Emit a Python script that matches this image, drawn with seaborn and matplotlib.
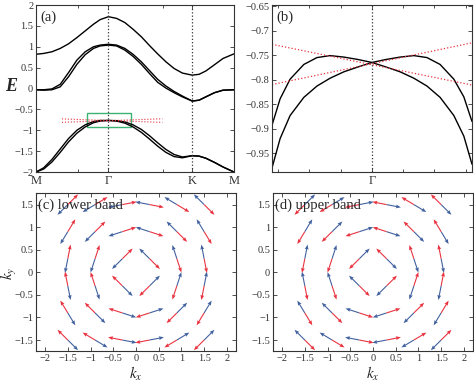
import numpy as np
import pandas as pd
import matplotlib
matplotlib.use("Agg")
import matplotlib.pyplot as plt
import seaborn as sns

# ---------data-----------------------------------------------------------------
# (a) band structure along M - Gamma - K - M
k_ticks = [0.0, 0.577, 1.244, 1.577]
k_labels = ["M", "Γ", "K", "M"]
k_path = [0.0, 0.061, 0.127, 0.193, 0.259, 0.326, 0.392, 0.458, 0.511, 0.577,
          0.642, 0.708, 0.773, 0.839, 0.904, 0.969, 1.035, 1.100, 1.166, 1.244,
          1.299, 1.353, 1.422, 1.490, 1.577]
band_top = [0.82, 0.84, 0.88, 0.96, 1.07, 1.22, 1.38, 1.54, 1.65, 1.72,
            1.68, 1.58, 1.42, 1.24, 1.03, 0.83, 0.64, 0.48, 0.37, 0.32,
            0.34, 0.42, 0.57, 0.72, 0.83]
band_mid_hi = [-0.03, -0.03, -0.01, 0.10, 0.38, 0.68, 0.88, 1.00, 1.04, 1.06,
               1.04, 0.96, 0.82, 0.64, 0.43, 0.22, 0.06, -0.07, -0.18, -0.30,
               -0.28, -0.20, -0.10, -0.04, -0.03]
band_mid_lo = [-0.03, -0.04, -0.03, 0.04, 0.28, 0.58, 0.81, 0.96, 1.02, 1.04,
               1.02, 0.92, 0.77, 0.58, 0.36, 0.15, 0.01, -0.10, -0.20, -0.30,
               -0.28, -0.20, -0.10, -0.04, -0.03]
band_low_hi = [-2.00, -1.90, -1.70, -1.45, -1.20, -1.00, -0.87, -0.79, -0.765, -0.765,
               -0.77, -0.80, -0.87, -0.98, -1.13, -1.30, -1.46, -1.58, -1.64, -1.61,
               -1.62, -1.67, -1.77, -1.88, -2.00]
band_low_lo = [-2.00, -1.93, -1.76, -1.53, -1.28, -1.07, -0.92, -0.82, -0.78, -0.765,
               -0.78, -0.83, -0.92, -1.05, -1.21, -1.38, -1.53, -1.63, -1.66, -1.61,
               -1.62, -1.67, -1.77, -1.88, -2.00]

# (b) zoom around Gamma
q_path = [-0.16, -0.147, -0.131, -0.109, -0.088, -0.067, -0.045, -0.022, 0.0,
          0.022, 0.045, 0.067, 0.088, 0.109, 0.131, 0.147, 0.16]
zoom_hi = [-0.893, -0.839, -0.799, -0.769, -0.755, -0.751, -0.754, -0.759, -0.765,
           -0.759, -0.754, -0.751, -0.755, -0.769, -0.799, -0.835, -0.885]
zoom_lo = [-0.980, -0.920, -0.873, -0.836, -0.813, -0.797, -0.784, -0.774, -0.765,
           -0.774, -0.784, -0.797, -0.813, -0.836, -0.873, -0.915, -0.972]
fit_q = [-0.16, 0.16]
fit_down = [-0.728, -0.811]
fit_up = [-0.810, -0.725]

# (c)/(d) spin texture on a k grid, red arrow angle (deg) for the lower band
grid_k = [-1.5, -0.9, -0.3, 0.3, 0.9, 1.5]
red_angle = [  # rows ky = 1.5 ... -1.5, columns kx = -1.5 ... 1.5
    [45, 31, 11, -11, -31, -45],
    [59, 45, 18, -18, -45, -59],
    [79, 72, 45, -45, -72, -79],
    [101, 108, 135, -135, -108, -101],
    [121, 135, 162, -162, -135, -121],
    [135, 149, 169, -169, -149, -135],
]

# ---------style----------------------------------------------------------------
sns.set_theme(style="ticks")
plt.rcParams["font.family"] = ["Liberation Serif", "DejaVu Serif"]
plt.rcParams["mathtext.fontset"] = "stix"
plt.rcParams["xtick.direction"] = "in"
plt.rcParams["ytick.direction"] = "in"
plt.rcParams["xtick.top"] = True
plt.rcParams["ytick.right"] = True
plt.rcParams["axes.edgecolor"] = "#333333"
plt.rcParams["axes.linewidth"] = 0.8
plt.rcParams["xtick.color"] = "#333333"
plt.rcParams["ytick.color"] = "#333333"
plt.rcParams["xtick.labelsize"] = 7.5
plt.rcParams["ytick.labelsize"] = 7.5

RED = "#e8323f"
BLUE = "#40609e"
GREEN = "#3cb371"

fig = plt.figure(figsize=(4.74, 3.86), dpi=100)
ax_a = fig.add_axes([0.0759, 0.5544, 0.4177, 0.4326])
ax_b = fig.add_axes([0.5738, 0.5544, 0.4219, 0.4326])
ax_c = fig.add_axes([0.0759, 0.0899, 0.4219, 0.4093])
ax_d = fig.add_axes([0.5759, 0.0899, 0.4219, 0.4093])

# ---------(a)------------------------------------------------------------------
for band in [band_top, band_mid_hi, band_mid_lo, band_low_hi, band_low_lo]:
    sns.lineplot(x=k_path, y=band, ax=ax_a, color="black", lw=1.0)
for kt in k_ticks[1:3]:
    ax_a.axvline(kt, color="#333333", ls=":", lw=0.9)
# tangent lines and zoom box around Gamma
ax_a.plot([0.577 - 0.37, 0.577 + 0.43], fit_down, color=RED, ls=":", lw=0.8)
ax_a.plot([0.577 - 0.37, 0.577 + 0.43], fit_up, color=RED, ls=":", lw=0.8)
ax_a.add_patch(plt.Rectangle((0.577 - 0.17, -0.92), 0.35, 0.33,
                             fill=False, ec=GREEN, lw=1.0))
ax_a.set_xlim(0, 1.577)
ax_a.set_ylim(-2, 2)
ax_a.set_xticks(k_ticks)
ax_a.set_xticklabels(k_labels, fontsize=9)
ax_a.set_xticks([0.334, 1.01], minor=True)
ax_a.set_yticks(np.arange(-2, 2.01, 0.5))
ax_a.set_yticklabels(["\u22122", "\u22121.5", "\u22121", "\u22120.5", "0",
                      "0.5", "1", "1.5", "2"])
ax_a.set_ylabel("")
ax_a.text(0.02, 0.925, "(a)", transform=ax_a.transAxes, fontsize=10.5,
          va="center")
fig.text(0.024, 0.775, "E", fontsize=13, fontweight="bold", fontstyle="italic",
         ha="center", va="center")

# ---------(b)------------------------------------------------------------------
sns.lineplot(x=q_path, y=zoom_hi, ax=ax_b, color="black", lw=1.0)
sns.lineplot(x=q_path, y=zoom_lo, ax=ax_b, color="black", lw=1.0)
ax_b.plot(fit_q, fit_down, color=RED, ls=":", lw=0.9)
ax_b.plot(fit_q, fit_up, color=RED, ls=":", lw=0.9)
ax_b.axvline(0, color="#333333", ls=":", lw=0.9)
ax_b.set_xlim(-0.16, 0.16)
ax_b.set_ylim(-0.988, -0.648)
ax_b.set_xticks([0])
ax_b.set_xticklabels(["Γ"], fontsize=9)
ax_b.set_xticks([-0.15, -0.1, -0.05, 0.05, 0.1, 0.15], minor=True)
ax_b.set_yticks(np.arange(-0.95, -0.649, 0.05))
ax_b.set_yticklabels(["\u22120.95", "\u22120.9", "\u22120.85", "\u22120.8",
                      "\u22120.75", "\u22120.7", "\u22120.65"])
ax_b.set_ylabel("")
ax_b.text(0.02, 0.925, "(b)", transform=ax_b.transAxes, fontsize=10.5,
          va="center")

# ---------(c) and (d)----------------------------------------------------------
gx, gy = np.meshgrid(grid_k, grid_k[::-1])
ang = np.radians(np.array(red_angle, dtype=float))
half = 0.32
for ax, flip, label in [(ax_c, 0, "(c) lower band"), (ax_d, np.pi, "(d) upper band")]:
    u = half * np.cos(ang + flip)
    v = half * np.sin(ang + flip)
    kw = dict(angles="xy", scale_units="xy", scale=1, pivot="tail",
              width=0.0055, headwidth=3.5, headlength=4.5, headaxislength=4)
    ax.quiver(gx, gy, -u, -v, color=BLUE, **kw)
    ax.quiver(gx, gy, u, v, color=RED, **kw)
    ax.set_xlim(-2.2, 2.2)
    ax.set_ylim(-1.75, 1.75)
    ax.set_xticks(np.arange(-2, 2.01, 0.5))
    ax.set_xticklabels(["\u22122", "\u22121.5", "\u22121", "\u22120.5", "0",
                        "0.5", "1", "1.5", "2"])
    ax.set_yticks(np.arange(-1.5, 1.51, 0.5))
    ax.set_yticklabels(["\u22121.5", "\u22121", "\u22120.5", "0", "0.5", "1", "1.5"])
    ax.set_xlabel("$k_x$", fontsize=11, labelpad=1)
    ax.text(0.01, 0.926, label, transform=ax.transAxes, fontsize=10.5,
            va="center")

fig.text(0.02, 0.293, "$k_y$", fontsize=11, rotation=90, ha="center",
         va="center")

for ax in [ax_a, ax_b, ax_c, ax_d]:
    ax.tick_params(which="both", length=3, width=0.6, pad=2)
    ax.tick_params(which="minor", length=2)

fig.savefig("out.png", dpi=100)
